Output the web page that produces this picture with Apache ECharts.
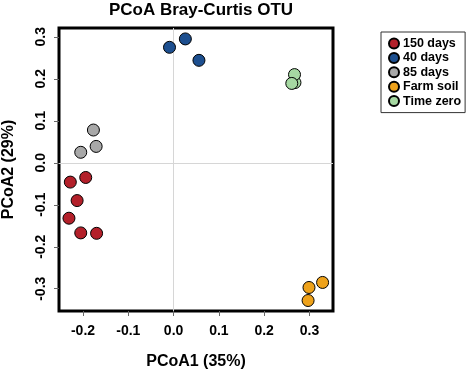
<!DOCTYPE html>
<html><head><meta charset="utf-8">
<script src="https://cdn.jsdelivr.net/npm/echarts@6/dist/echarts.min.js"></script>
<style>html,body{margin:0;padding:0;background:#fff}#c{width:474px;height:370px}</style>
</head><body><div id="c"></div>
<script>
var groups = ['150 days', '40 days', '85 days', 'Farm soil', 'Time zero'];
var colors = ['#b3202a', '#1d4f8f', '#a8a8a8', '#eea21b', '#a6d9a2'];
var d150 = [[-0.194, -0.035], [-0.228, -0.046], [-0.213, -0.090], [-0.231, -0.132], [-0.205, -0.167], [-0.170, -0.168]];
var d40 = [[-0.009, 0.275], [0.026, 0.295], [0.056, 0.244]];
var d85 = [[-0.177, 0.078], [-0.171, 0.039], [-0.205, 0.025]];
var dFarm = [[0.329, -0.285], [0.299, -0.297], [0.297, -0.328]];
var dZero = [[0.268, 0.191], [0.267, 0.210], [0.261, 0.189]];
var xTicks = [-0.2, -0.1, 0.0, 0.1, 0.2, 0.3];
var yTicks = [-0.3, -0.2, -0.1, 0.0, 0.1, 0.2, 0.3];
var seriesData = [d150, d40, d85, dFarm, dZero];

var font = 'Liberation Sans';
var chart = echarts.init(document.getElementById('c'), null, {renderer: 'canvas'});
var series = groups.map(function (g, i) {
  return {
    name: g, type: 'scatter', data: seriesData[i], symbol: 'circle', symbolSize: 12,
    itemStyle: {color: colors[i], borderColor: '#000', borderWidth: 1, opacity: 1},
    emphasis: {disabled: true}, z: 5
  };
});
series.push({
  type: 'line', data: [], silent: true, z: 1,
  markLine: {
    silent: true, symbol: ['none', 'none'], label: {show: false},
    lineStyle: {color: '#d6d6d6', width: 1, type: 'solid'},
    data: [{xAxis: 0}, {yAxis: 0}], animation: false
  }
});
chart.setOption({
  animation: false,
  title: {
    text: 'PCoA Bray-Curtis OTU', left: 196, textAlign: 'center', top: -3,
    textStyle: {fontFamily: font, fontWeight: 'bold', fontSize: 17, color: '#000'}
  },
  grid: {left: 59, top: 28, width: 274, height: 283, show: true, borderColor: '#000', borderWidth: 3,
    backgroundColor: 'transparent', outerBoundsMode: 'none', containLabel: false},
  legend: {
    orient: 'vertical', left: 381, top: 32, data: groups,
    icon: 'circle', itemWidth: 10, itemHeight: 10, itemGap: 1.4,
    borderColor: '#333', borderWidth: 1, padding: [5, 4, 5, 7],
    textStyle: {fontFamily: font, fontWeight: 'bold', fontSize: 12.5, color: '#000', padding: [0, 0, 0, -1]},
    selectedMode: false
  },
  xAxis: {
    type: 'value', min: -0.253, max: 0.352,
    name: 'PCoA1 (35%)', nameLocation: 'middle', nameGap: 43,
    nameTextStyle: {fontFamily: font, fontWeight: 'bold', fontSize: 16, color: '#000'},
    axisLine: {show: false, onZero: false},
    axisTick: {show: true, length: 5, lineStyle: {color: '#666'}, customValues: xTicks},
    axisLabel: {customValues: xTicks, margin: 13, fontFamily: font, fontWeight: 'bold', fontSize: 14, color: '#000',
      formatter: function (v) { return v.toFixed(1); }},
    splitLine: {show: false}
  },
  yAxis: {
    type: 'value', min: -0.353, max: 0.321,
    name: 'PCoA2 (29%)', nameLocation: 'middle', nameGap: 42, nameRotate: 90,
    nameTextStyle: {fontFamily: font, fontWeight: 'bold', fontSize: 16, color: '#000'},
    axisLine: {show: false, onZero: false},
    axisTick: {show: true, length: 5, lineStyle: {color: '#666'}, customValues: yTicks},
    axisLabel: {customValues: yTicks, rotate: 90, margin: 11, fontFamily: font, fontWeight: 'bold', fontSize: 14, color: '#000',
      formatter: function (v) { return v.toFixed(1); }},
    splitLine: {show: false}
  },
  series: series
});
</script></body></html>
